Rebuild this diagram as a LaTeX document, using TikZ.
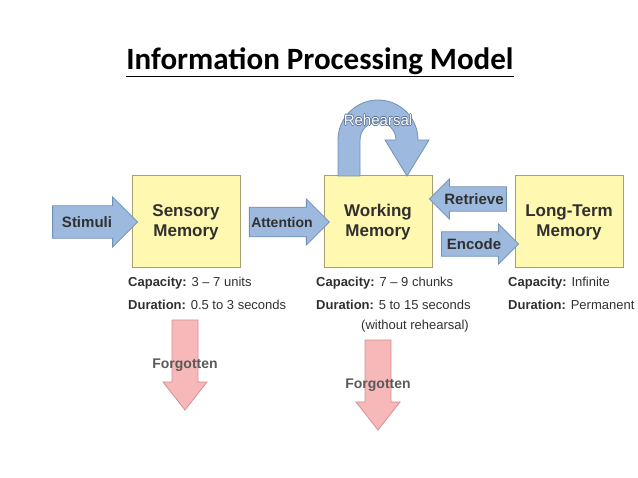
\documentclass[tikz,border=0pt]{standalone}
\usepackage{fontspec}
\setmainfont{Liberation Sans}
\newfontfamily\titlefont{Carlito}
\usetikzlibrary{shapes.arrows}
\definecolor{boxfill}{HTML}{FFF8B0}
\definecolor{boxline}{HTML}{A8A070}
\definecolor{arrfill}{HTML}{9DB9DE}
\definecolor{arrline}{HTML}{7090B8}
\definecolor{pinkfill}{HTML}{F6B8B8}
\definecolor{pinkline}{HTML}{D89090}
\definecolor{txt}{HTML}{303030}
\begin{document}
\begin{tikzpicture}[x=1pt,y=-1pt,
  mem/.style={draw=boxline,fill=boxfill,line width=1pt,minimum width=108pt,minimum height=92pt,inner sep=0pt,align=center,font=\bfseries\fontsize{17}{20}\selectfont,text=txt},
  barr/.style={single arrow,draw=arrline,fill=arrfill,line width=0.8pt,inner xsep=1pt,inner ysep=7pt,single arrow head extend=7pt,font=\bfseries\fontsize{15}{17}\selectfont,text=txt},
  pk/.style={fill=pinkfill,draw=pinkline,line width=0.8pt},
  rh/.style={font=\fontsize{15}{17}\selectfont,text=arrline!80!black},
  info/.style={anchor=west,font=\fontsize{13}{15}\selectfont,text=txt,inner sep=0pt}]
\useasboundingbox (0,0) rectangle (638,478);
\node[font=\titlefont\bfseries\fontsize{31}{36}\selectfont] (title) at (320,62) {\underline{Information Processing Model}};
\node[mem] (sm) at (186,222) {Sensory\\Memory};
\node[mem] (wm) at (378,222) {Working\\Memory};
\node[mem] (ltm) at (569,222) {Long-Term\\Memory};
\node[barr,minimum height=85pt,minimum width=50pt] (stim) at (87,222) {Stimuli};
\node[barr,minimum height=80pt,minimum width=46pt,inner xsep=0pt,font=\bfseries\fontsize{14}{16}\selectfont] (att) at (282,222) {Attention};
\node[barr,minimum height=77pt,minimum width=40pt,inner ysep=5pt,shape border rotate=180] (ret) at (474,199) {Retrieve};
\node[barr,minimum height=77pt,minimum width=40pt,inner ysep=5pt] (enc) at (474,244) {Encode};
\fill[arrfill,draw=arrline,line width=0.8pt] (338,176) -- (338,140) arc[start angle=180,end angle=360,radius=40] -- (429,140) -- (407,176) -- (385,140) -- (396,140) arc[start angle=0,end angle=-180,radius=18] -- (360,176) -- cycle;
\foreach \dx/\dy in {-0.7/0,0.7/0,0/-0.7,0/0.7} {\node[rh] at (378+\dx,120+\dy) {Rehearsal};}
\node[font=\fontsize{15}{17}\selectfont,text=white] (reh) at (378,120) {Rehearsal};
\node[info] (c1) at (128,283) {\textbf{Capacity:} 3 -- 7 units};
\node[info] (d1) at (128,305) {\textbf{Duration:} 0.5 to 3 seconds};
\node[info] (c2) at (316,283) {\textbf{Capacity:} 7 -- 9 chunks};
\node[info] (d2) at (316,305) {\textbf{Duration:} 5 to 15 seconds};
\node[info] (d2b) at (361,326) {(without rehearsal)};
\node[info] (c3) at (508,283) {\textbf{Capacity:} Infinite};
\node[info] (d3) at (508,305) {\textbf{Duration:} Permanent};
\draw[pk] (172,320) -- (198,320) -- (198,382) -- (207,382) -- (185,410) -- (163,382) -- (172,382) -- cycle;
\draw[pk] (365,340) -- (391,340) -- (391,402) -- (400,402) -- (378,430) -- (356,402) -- (365,402) -- cycle;
\node[font=\bfseries\fontsize{14}{16}\selectfont,text=txt!80] (f1t) at (185,365) {Forgotten};
\node[font=\bfseries\fontsize{14}{16}\selectfont,text=txt!80] (f2t) at (378,385) {Forgotten};
\end{tikzpicture}
\end{document}
